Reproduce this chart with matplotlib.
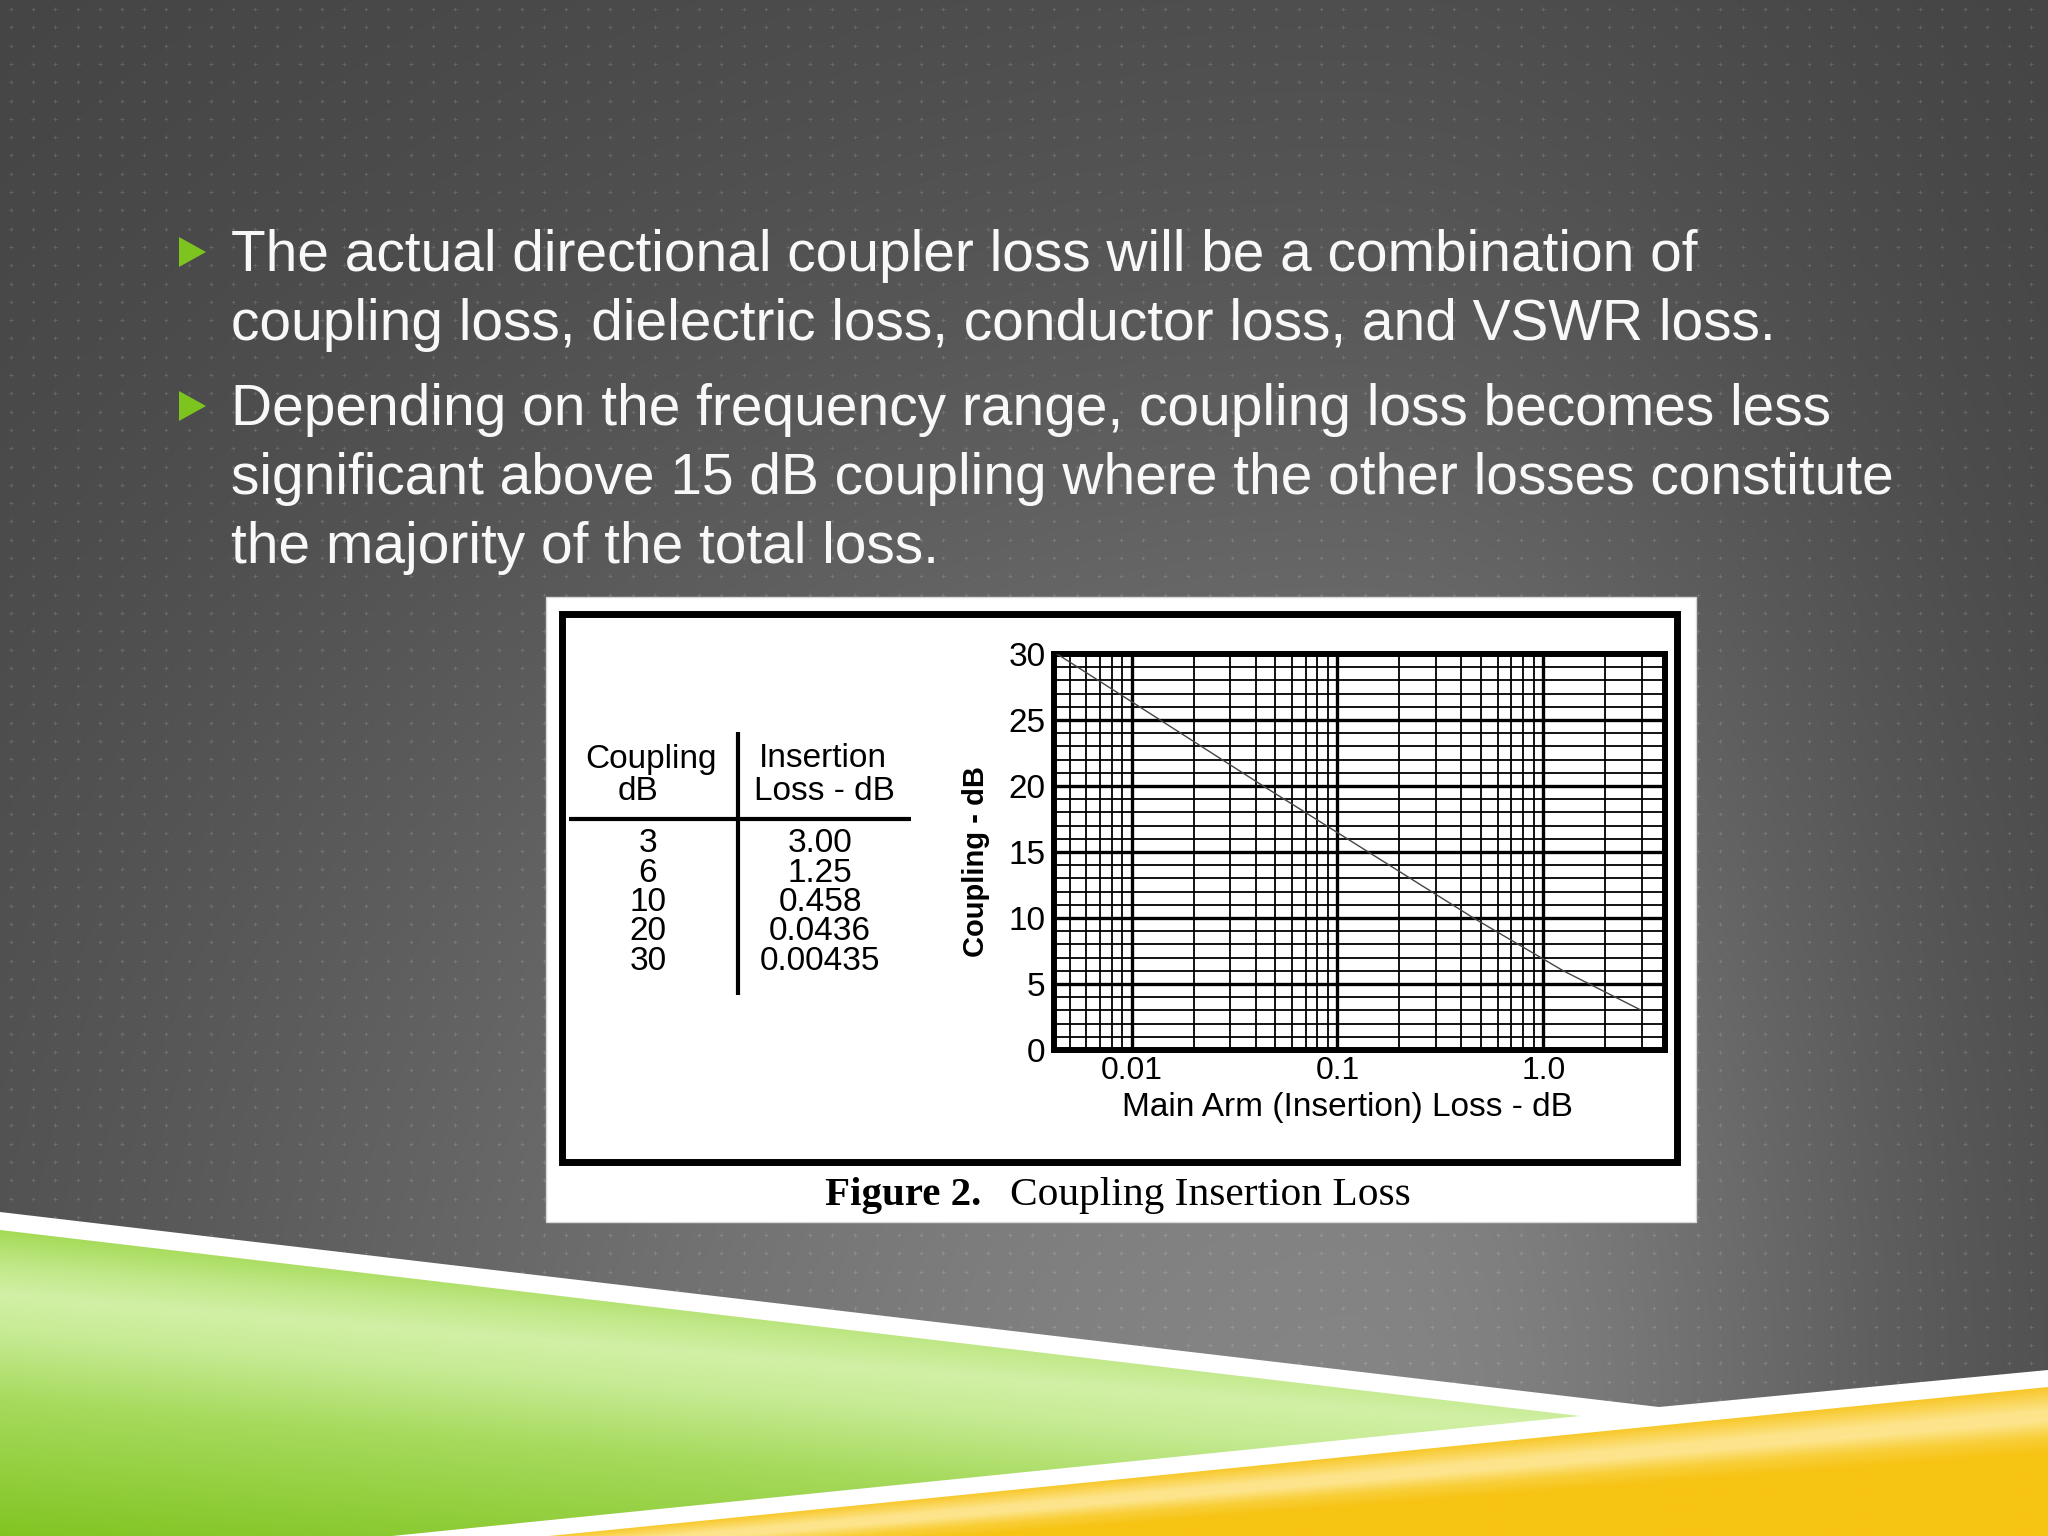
import numpy as np
import matplotlib
matplotlib.use("Agg")
import matplotlib.pyplot as plt
from matplotlib.patches import Polygon, Rectangle
from matplotlib.colors import LinearSegmentedColormap
from matplotlib.ticker import LogLocator, FixedLocator, MultipleLocator, NullFormatter

# ---------------- data ----------------
coupling_db = [3, 6, 10, 20, 30]
insertion_loss_db = [3.00, 1.25, 0.458, 0.0436, 0.00435]
insertion_labels = ["3.00", "1.25", "0.458", "0.0436", "0.00435"]
x_tick_values = [0.01, 0.1, 1.0]
x_tick_labels = ["0.01", "0.1", "1.0"]
y_tick_values = [0, 5, 10, 15, 20, 25, 30]

bullet_lines = [
    ["The actual directional coupler loss will be a combination of",
     "coupling loss, dielectric loss, conductor loss, and VSWR loss."],
    ["Depending on the frequency range, coupling loss becomes less",
     "significant above 15 dB coupling where the other losses constitute",
     "the majority of the total loss."],
]

SANS = "Liberation Sans"
SERIF = "Liberation Serif"
W, H = 2048, 1536

fig = plt.figure(figsize=(20.48, 15.36), dpi=100)
bg = fig.add_axes([0, 0, 1, 1])
bg.set_xlim(0, W)
bg.set_ylim(H, 0)
bg.axis("off")

# ---------------- background gradient ----------------
gx = np.linspace(0, W, 512)
gy = np.linspace(0, H, 384)
X, Y = np.meshgrid(gx, gy)
cx, cy = 1350, 1420
rx = np.where(X < cx, 1500.0, 750.0)
d2 = ((X - cx) / rx) ** 2 + ((Y - cy) / 1400.0) ** 2
val = 0.26 + 0.26 * np.exp(-d2 / 0.6)
bg.imshow(np.dstack([val, val, val]), extent=(0, W, H, 0), aspect="auto",
          interpolation="bilinear", zorder=0)

# dotted texture
dx_, dy_ = np.meshgrid(np.arange(11, W, 22.2), np.arange(9, H, 18.3))
bg.plot(dx_.ravel(), dy_.ravel(), linestyle="none", marker="+", markersize=3,
        mew=0.7, color="white", alpha=0.15, zorder=1)

# ---------------- bottom shapes ----------------
white_poly = Polygon([(0, 1212), (1659, 1407), (W, 1370), (W, H), (0, H)],
                     closed=True, facecolor="white", edgecolor="none", zorder=2)
bg.add_patch(white_poly)

# green wedge with highlight band
green_pts = [(0, 1230), (1580, 1416), (392, H), (0, H)]
green_poly = Polygon(green_pts, closed=True, facecolor="none", edgecolor="none", zorder=3)
bg.add_patch(green_poly)
gxx, gyy = np.meshgrid(np.linspace(0, 1580, 400), np.linspace(1225, H, 120))
gd = gyy - (1283 + 0.085 * gxx)
gcmap = LinearSegmentedColormap.from_list(
    "g", [(0.0, "#a0d84e"), (0.125, "#c0e888"), (0.22, "#d2f0a6"),
          (0.34, "#c6eb94"), (0.56, "#a6da5c"), (1.0, "#80c420")])
gnorm = np.clip((gd + 60) / 320.0, 0, 1)
gim = bg.imshow(gcmap(gnorm), extent=(0, 1580, H, 1225), aspect="auto",
                interpolation="bilinear", zorder=3)
gim.set_clip_path(green_poly)

# yellow wedge with highlight band
yellow_pts = [(W, 1387), (549, H), (W, H)]
yellow_poly = Polygon(yellow_pts, closed=True, facecolor="none", edgecolor="none", zorder=3)
bg.add_patch(yellow_poly)
yxx, yyy = np.meshgrid(np.linspace(540, W, 400), np.linspace(1380, H, 120))
ytop = 1387 + (W - yxx) * 0.0994
yd = yyy - ytop
band = 15 + (yxx - 549) / (W - 549) * 15
ycmap = LinearSegmentedColormap.from_list(
    "y", [(0.0, "#f8c82a"), (0.35, "#fde48a"), (0.5, "#fde58e"),
          (0.75, "#f9cf3a"), (1.0, "#f7c414")])
ynorm = np.clip(yd / (2.2 * band), 0, 1)
yim = bg.imshow(ycmap(ynorm), extent=(540, W, H, 1380), aspect="auto",
                interpolation="bilinear", zorder=3)
yim.set_clip_path(yellow_poly)

# ---------------- bullets ----------------
baselines = [[271, 340], [425, 494, 563]]
for lines, bls in zip(bullet_lines, baselines):
    yc = bls[0] - 19
    bg.add_patch(Polygon([(179, yc - 15), (206, yc), (179, yc + 15)], closed=True,
                         facecolor="#7dc41f", edgecolor="none", zorder=4))
    for txt, b in zip(lines, bls):
        bg.text(231, b, txt, fontsize=40.95, family=SANS, color="#f8f8f8",
                va="baseline", ha="left", zorder=4)

# ---------------- figure panel ----------------
bg.add_patch(Rectangle((546, 597), 1150, 625, facecolor="white", edgecolor="#d8d8d8",
                       lw=1, zorder=5))
bg.add_patch(Rectangle((561.5, 613.5), 1115, 548, facecolor="none", edgecolor="black",
                       lw=5, zorder=6))

# table
bg.plot([738, 738], [732, 995], color="black", lw=3, solid_capstyle="butt", zorder=6)
bg.plot([569, 911], [819, 819], color="black", lw=3, solid_capstyle="butt", zorder=6)
tkw = dict(fontsize=24, family=SANS, color="black", va="baseline", ha="center", zorder=7)
bg.text(651, 768, "Coupling", **tkw)
bg.text(638, 800, "dB", **tkw)
bg.text(823, 767, "Insertion", **tkw)
bg.text(824, 800, "Loss - dB", **tkw)
for i, (c, lab) in enumerate(zip(coupling_db, insertion_labels)):
    b = 852 + i * 29.5
    bg.text(648, b, str(c), **tkw)
    bg.text(820, b, lab, **tkw)

# caption
bg.text(981, 1205, "Figure 2.", fontsize=29.5, family=SERIF, weight="bold",
        color="black", ha="right", va="baseline", zorder=7)
bg.text(1010, 1205, "Coupling Insertion Loss", fontsize=29.8, family=SERIF,
        color="black", ha="left", va="baseline", zorder=7)

# ---------------- chart ----------------
L, R, T, B = 1054, 1665, 654, 1050
ax = fig.add_axes([L / W, (H - B) / H, (R - L) / W, (B - T) / H], zorder=10)
ax.set_facecolor("white")
ax.set_xscale("log")
ax.set_xlim(0.0042, 3.9)
ax.set_ylim(0, 30)
ax.xaxis.set_major_locator(FixedLocator(x_tick_values))
ax.set_xticklabels(x_tick_labels)
ax.xaxis.set_minor_locator(LogLocator(base=10, subs=np.arange(2, 10), numticks=20))
ax.xaxis.set_minor_formatter(NullFormatter())
ax.set_yticks(y_tick_values)
ax.yaxis.set_minor_locator(MultipleLocator(1))
ax.grid(which="major", color="black", lw=2.4)
ax.grid(which="minor", color="black", lw=1.3)
ax.set_axisbelow(True)
for s in ax.spines.values():
    s.set_linewidth(4.3)
    s.set_color("black")
ax.tick_params(which="both", length=0)
ax.tick_params(axis="x", pad=4, labelsize=23)
ax.tick_params(axis="y", pad=6, labelsize=24)
for lab in ax.get_xticklabels() + ax.get_yticklabels():
    lab.set_family(SANS)

ax.plot(insertion_loss_db, coupling_db, color="#444444", lw=1.0, zorder=5)

ax.set_xlabel("Main Arm (Insertion) Loss - dB", fontsize=24, family=SANS, va="center")
ax.xaxis.set_label_coords(0.48, -0.144)
ax.set_ylabel("Coupling - dB", fontsize=21, family=SANS, weight="bold", va="center")
ax.yaxis.set_label_coords(-0.128, 0.475)

fig.savefig("out.png", dpi=100)
